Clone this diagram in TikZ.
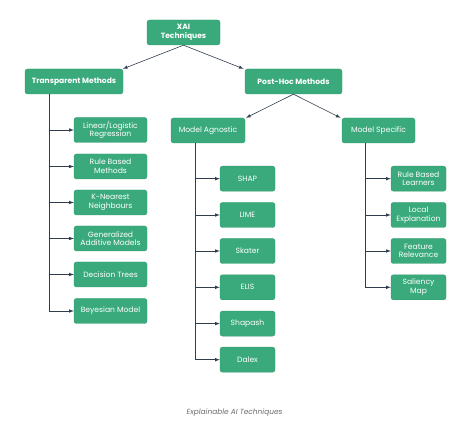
\documentclass[tikz,border=0pt]{standalone}
\usepackage{fontspec}
\setmainfont{Poppins}
\definecolor{boxgreen}{HTML}{3AAA7C}
\definecolor{boxedge}{HTML}{2E9A6C}
\definecolor{linkcol}{HTML}{2F3E4E}
\definecolor{capgray}{HTML}{6A6A6A}
\begin{document}
\begin{tikzpicture}[x=1pt,y=-1pt,
  box/.style={draw=boxedge, fill=boxgreen, text=white, rounded corners=2.5pt, inner sep=0pt,
    minimum height=25pt, align=center, font=\fontsize{7.6}{8.6}\selectfont},
  topbox/.style={box, font=\fontsize{7.6}{8.6}\selectfont\bfseries},
  link/.style={draw=linkcol, line width=0.6pt, -latex}]

\useasboundingbox (0,0) rectangle (474,427);

\node [topbox, minimum width=73pt] (xai) at (183.5,32.5) {XAI\\Techniques};
\node [topbox, minimum width=98pt] (tm) at (74,81.5) {Transparent Methods};
\node [topbox, minimum width=97pt] (ph) at (293.5,81.5) {Post-Hoc Methods};
\node [box, minimum width=74pt] (ma) at (208,130.5) {Model Agnostic};
\node [box, minimum width=73pt] (ms) at (378.5,130.5) {Model Specific};

\draw [link] (xai.south) -- ([xshift=49pt]tm.north);
\draw [link] (xai.south) -- ([xshift=-50pt]ph.north);
\draw [link] (ph.south) -- ([xshift=38pt]ma.north);
\draw [link] (ph.south) -- ([xshift=-38pt]ms.north);

% transparent methods
\node [box, minimum width=73pt] (t1) at (110.5,130) {Linear/Logistic\\Regression};
\node [box, minimum width=73pt] (t2) at (110.5,166.5) {Rule Based\\Methods};
\node [box, minimum width=73pt] (t3) at (110.5,202.5) {K-Nearest\\Neighbours};
\node [box, minimum width=73pt] (t4) at (110.5,238.5) {Generalized\\Additive Models};
\node [box, minimum width=73pt] (t5) at (110.5,274.5) {Decision Trees};
\node [box, minimum width=73pt] (t6) at (110.5,311) {Beyesian Model};

\foreach \n in {t1,t2,t3,t4,t5,t6}
  \draw [link] ([xshift=-25pt]tm.south) |- (\n.west);

% model agnostic
\node [box, minimum width=55pt] (a1) at (247.5,178.7) {SHAP};
\node [box, minimum width=55pt] (a2) at (247.5,215) {LIME};
\node [box, minimum width=55pt] (a3) at (247.5,251) {Skater};
\node [box, minimum width=55pt] (a4) at (247.5,287.3) {ELIS};
\node [box, minimum width=55pt] (a5) at (247.5,323.6) {Shapash};
\node [box, minimum width=55pt] (a6) at (247.5,359.7) {Dalex};

\foreach \n in {a1,a2,a3,a4,a5,a6}
  \draw [link] ([xshift=-12.3pt]ma.south) |- (\n.west);

% model specific
\node [box, minimum width=55pt] (s1) at (418.5,178.7) {Rule Based\\Learners};
\node [box, minimum width=55pt] (s2) at (418.5,215) {Local\\Explanation};
\node [box, minimum width=55pt] (s3) at (418.5,251) {Feature\\Relevance};
\node [box, minimum width=55pt] (s4) at (418.5,287.3) {Saliency\\Map};

\foreach \n in {s1,s2,s3,s4}
  \draw [link] ([xshift=-12.8pt]ms.south) |- (\n.west);

\node [text=capgray, font=\fontsize{7.4}{8}\selectfont\itshape] (cap) at (234.5,413) {Explainable AI Techniques};

\end{tikzpicture}
\end{document}
